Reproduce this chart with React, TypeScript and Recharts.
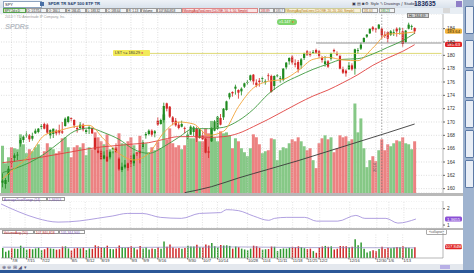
import React from "react";
import { ComposedChart, Bar, Line, XAxis, YAxis, CartesianGrid, ReferenceLine, Cell } from "recharts";

const dates = [
  "7/2","7/3","7/5","7/8","7/9","7/10","7/11","7/12","7/15","7/16","7/17","7/18","7/19","7/22","7/23","7/24","7/25","7/26","7/29","7/30","7/31",
  "8/1","8/2","8/5","8/6","8/7","8/8","8/9","8/12","8/13","8/14","8/15","8/16","8/19","8/20","8/21","8/22","8/23","8/26","8/27","8/28","8/29","8/30",
  "9/3","9/4","9/5","9/6","9/9","9/10","9/11","9/12","9/13","9/16","9/17","9/18","9/19","9/20","9/23","9/24","9/25","9/26","9/27","9/30",
  "10/1","10/2","10/3","10/4","10/7","10/8","10/9","10/10","10/11","10/14","10/15","10/16","10/17","10/18","10/21","10/22","10/23","10/24","10/25","10/28","10/29","10/30","10/31",
  "11/1","11/4","11/5","11/6","11/7","11/8","11/11","11/12","11/13","11/14","11/15","11/18","11/19","11/20","11/21","11/22","11/25","11/26","11/27","11/29",
  "12/2","12/3","12/4","12/5","12/6","12/9","12/10","12/11","12/12","12/13","12/16","12/17","12/18","12/19","12/20","12/23","12/24","12/26","12/27","12/30","12/31",
  "1/2","1/3","1/6","1/7","1/8","1/9","1/10","1/13","1/14","1/15","1/16","1/17"
];

// [open, high, low, close]
const ohlc = [
  [160.9,162.3,160.2,161.2],[160.7,161.6,160.0,161.3],[162.1,163.4,161.0,163.0],[164.0,164.6,163.1,163.9],[164.6,165.3,164.0,165.0],
  [165.0,165.5,164.3,165.1],[166.8,167.6,166.3,167.3],[167.3,168.0,166.9,167.8],[168.0,168.6,167.6,168.1],[168.0,168.2,167.0,167.4],
  [167.5,168.4,167.2,167.9],[168.3,169.0,168.2,168.7],[168.5,169.1,168.3,169.0],[169.3,169.7,168.9,169.4],[169.7,169.9,168.9,169.0],
  [169.6,169.8,168.2,168.4],[168.0,168.9,167.5,168.8],[168.2,169.0,167.6,169.0],[168.7,168.9,168.0,168.3],[168.8,169.6,168.1,168.4],
  [168.6,170.0,168.2,168.4],[169.4,170.7,169.3,170.5],[170.0,170.9,169.8,170.8],[170.6,170.7,170.1,170.5],[170.3,170.4,169.1,169.5],
  [169.1,169.4,168.4,168.9],[169.1,170.0,168.9,169.6],[169.6,169.8,168.6,168.9],[168.5,169.0,168.2,168.8],[169.0,169.5,168.2,169.2],
  [169.1,169.2,168.2,168.3],[167.6,167.7,165.8,165.9],[165.7,166.3,165.3,165.4],[165.6,165.9,164.4,164.4],[164.5,165.6,164.4,165.0],
  [164.8,165.8,164.0,164.1],[164.7,165.7,164.4,165.5],[165.9,166.2,165.3,166.1],[166.0,166.8,165.4,165.5],[164.5,164.7,162.7,162.9],
  [162.8,163.9,162.5,163.3],[163.2,164.3,163.0,163.6],[163.8,163.9,162.7,163.1],[164.3,165.0,163.2,163.8],[163.8,165.3,163.4,165.1],
  [165.4,165.6,164.9,165.3],[165.7,166.6,163.8,165.3],[166.2,167.3,166.0,167.0],[168.0,168.5,167.5,168.2],[168.2,168.9,168.0,168.7],
  [168.7,168.9,167.8,168.1],[168.3,168.8,167.7,168.6],[170.2,170.7,169.4,169.6],[169.7,170.5,169.6,170.3],[170.3,172.9,169.9,172.4],
  [172.8,172.9,171.6,172.0],[172.3,172.4,170.6,170.8],[170.7,170.9,169.5,170.0],[170.2,170.6,169.3,169.5],[169.6,170.0,168.9,169.1],
  [169.3,170.2,169.2,169.7],[169.1,169.3,168.3,169.0],[167.8,168.6,167.4,168.0],[168.1,169.5,168.1,169.3],[168.5,169.4,167.9,169.2],
  [169.0,169.3,167.0,167.7],[167.6,169.1,167.5,168.9],[168.0,168.7,167.3,167.4],[167.5,167.6,165.3,165.4],[165.6,166.3,164.6,165.4],
  [167.1,169.2,167.0,169.1],[168.7,170.3,168.6,170.1],[169.0,170.9,168.8,170.8],[170.6,171.2,169.5,169.6],[170.7,172.1,170.3,172.0],
  [171.8,173.2,171.7,173.1],[173.7,174.4,173.4,174.3],[174.5,174.6,173.8,174.3],[175.0,175.6,174.1,175.3],[174.8,174.9,173.5,174.4],
  [174.6,175.2,174.0,175.0],[175.3,175.9,175.1,175.8],[175.9,176.3,175.6,176.0],[176.3,177.1,176.1,177.0],[177.1,177.2,175.6,176.1],
  [175.9,176.4,175.2,175.5],[176.2,176.6,175.3,176.0],[176.6,176.8,175.9,176.6],[176.1,176.4,175.6,176.1],[177.0,177.3,176.2,176.9],
  [176.9,177.1,174.4,174.5],[175.4,177.0,174.8,176.9],[177.0,177.2,176.7,177.0],[176.6,176.9,175.9,176.6],[176.3,178.1,176.1,178.0],
  [178.2,179.0,177.9,178.9],[179.1,179.7,178.6,179.6],[179.8,180.0,178.6,178.9],[178.8,179.4,178.2,178.6],[179.0,179.3,177.4,177.9],
  [178.5,179.6,178.0,179.4],[179.6,180.4,179.3,180.3],[180.6,180.8,179.9,180.1],[180.2,180.6,179.8,180.1],[180.4,180.8,180.2,180.5],
  [180.8,181.0,180.2,180.4],[180.6,180.8,179.6,179.9],[179.6,179.9,178.9,179.3],[178.7,179.9,178.3,179.1],[179.1,179.3,178.1,178.3],
  [179.5,180.4,179.2,180.3],[180.8,181.0,180.4,180.6],[180.3,180.6,179.9,180.1],[179.9,180.1,177.9,178.0],[177.9,178.3,177.2,177.4],
  [177.7,177.9,176.8,177.3],[177.9,179.0,177.8,178.5],[178.5,178.8,177.7,177.9],[178.0,181.0,177.1,180.9],[180.7,181.1,180.2,180.8],
  [181.0,181.9,180.8,181.6],[182.0,182.7,181.9,182.6],[182.8,183.2,182.6,183.1],[183.3,184.0,183.2,184.0],[184.2,184.4,183.6,183.9],
  [184.0,184.1,183.4,183.9],[184.0,184.7,183.9,184.6],[184.0,184.1,182.5,183.0],[183.1,183.6,182.6,182.9],[183.5,183.6,181.9,182.5],
  [183.1,183.8,182.9,183.6],[183.5,183.9,182.9,183.5],[184.0,184.2,182.8,183.6],[183.9,184.2,183.1,184.0],[183.6,184.1,181.3,181.7],
  [182.0,183.8,181.9,183.7],[184.0,184.9,183.9,184.6],[184.3,184.6,183.8,184.4],[184.1,184.2,183.2,183.6]
];

// volume in millions of shares
const volumes = [
  95,60,72,92,90,88,118,98,80,88,84,92,98,75,84,100,92,88,80,84,110,
  112,92,72,92,96,92,100,76,92,88,122,112,104,98,118,88,84,92,120,100,98,104,
  112,96,82,115,92,100,82,92,86,104,90,158,108,130,100,92,96,88,96,118,
  110,110,128,104,104,130,120,145,112,104,124,120,122,116,90,110,104,90,82,74,90,118,112,
  98,80,84,86,110,108,66,86,92,90,100,108,104,112,104,94,86,90,66,50,
  100,110,116,108,112,82,90,116,112,114,104,108,180,122,150,90,52,66,74,64,86,
  108,86,98,94,100,106,104,112,100,98,88,104
];

const maIdx = [0,4,9,14,19,24,29,34,39,44,49,54,59,64,69,74,79,84,89,94,99,104,109,114,119,124,129,134,138];
const ma10 = [161.5,163.0,165.0,168.0,168.7,169.3,169.5,167.4,165.3,164.3,165.3,168.4,170.0,169.7,168.0,168.6,172.3,175.1,176.1,176.4,177.7,179.4,179.7,179.3,179.2,181.1,183.2,183.3,183.5];
const ma20 = [162.4,163.0,163.9,165.2,166.9,168.6,169.1,168.4,167.4,165.9,165.3,166.3,167.7,169.0,169.0,169.2,170.2,171.9,174.2,175.8,176.9,177.9,178.7,179.4,179.5,180.2,181.2,182.2,183.3];
const ma50 = [163.9,164.1,164.4,164.8,165.2,165.6,166.0,166.3,166.5,166.7,166.9,167.4,167.8,167.8,167.7,167.8,168.3,169.3,170.4,171.6,172.8,173.9,174.8,175.9,177.1,178.5,179.6,180.6,181.6];
const ma200Idx = [61,70,79,89,99,109,119,129,138];
const ma200 = [159.4,160.3,161.6,162.9,164.2,165.6,167.0,168.4,169.7];

const atrIdx = [0,6,12,19,26,32,37,42,47,53,60,66,73,75,79,84,89,91,95,101,105,112,118,121,128,132,138];
const atrVal = [2.29,1.8,1.41,1.18,1.25,1.41,1.55,1.71,1.71,1.47,1.41,1.71,1.76,1.94,1.88,1.55,1.29,1.41,1.47,1.47,1.24,1.24,1.59,1.41,1.41,1.12,1.37];

const volAvgIdx = [0,20,40,60,80,100,120,138];
const volAvg = [104,100,101,104,106,100,99,98];

const priceTicks = [160,162,164,166,168,170,172,174,176,178,180,182,184];
const dateTicks = ["7/8","7/15","7/22","8/5","8/12","8/19","9/3","9/9","9/16","9/30","10/7","10/14","10/28","11/4","11/11","11/18","11/25","12/2","12/16","12/30","1/6","1/13"];

const N_SLOTS = 148;
const UP = "#1f8a1f";
const DN = "#d42626";
const VUP = "#86c886";
const VDN = "#ec8282";

const maMap = (idx: number[], vals: number[]) => {
  const m: Record<number, number> = {};
  idx.forEach((k, j) => (m[k] = vals[j]));
  return m;
};
const m10 = maMap(maIdx, ma10);
const m20 = maMap(maIdx, ma20);
const m50 = maMap(maIdx, ma50);
const m200 = maMap(ma200Idx, ma200);
const mAtr = maMap(atrIdx, atrVal);
const mVa = maMap(volAvgIdx, volAvg);

const data = Array.from({ length: N_SLOTS }, (_, i) => {
  const row = ohlc[i];
  return {
    i,
    date: dates[i] ?? "",
    hl: row ? [row[2], row[1]] : null,
    o: row ? row[0] : null,
    h: row ? row[1] : null,
    l: row ? row[2] : null,
    c: row ? row[3] : null,
    up: row ? row[3] >= row[0] : true,
    vol: volumes[i] ?? null,
    ma10: m10[i],
    ma20: m20[i],
    ma50: m50[i],
    ma200: m200[i],
    atr: mAtr[i],
    vavg: mVa[i],
  };
});

const tickIdx = dateTicks.map((d) => dates.indexOf(d));

const Candle = (props: any) => {
  const { x, y, width, height, payload } = props;
  if (!payload || payload.o == null) return null;
  const top = Math.min(y, y + height);
  const bot = Math.max(y, y + height);
  const range = payload.h - payload.l || 0.01;
  const ppu = (bot - top) / range;
  const oy = top + (payload.h - payload.o) * ppu;
  const cy = top + (payload.h - payload.c) * ppu;
  const cx = x + width / 2;
  const col = payload.up ? UP : DN;
  const bt = Math.min(oy, cy);
  const bh = Math.max(Math.abs(oy - cy), 0.8);
  return (
    <g>
      <line x1={cx} x2={cx} y1={top} y2={bot} stroke={col} strokeWidth={0.8} />
      <rect x={cx - 1.1} y={bt} width={2.2} height={bh} fill={col} />
    </g>
  );
};

const Badge = ({ viewBox, text, bg, fg }: any) => {
  if (!viewBox) return null;
  const x = viewBox.x + viewBox.width + 2;
  const y = viewBox.y;
  return (
    <g>
      <rect x={x} y={y - 2.6} width={17} height={5.2} rx={1.5} fill={bg} />
      <text x={x + 8.5} y={y + 1.6} fontSize={4.3} textAnchor="middle" fill={fg} fontFamily="Liberation Sans, Arial">{text}</text>
    </g>
  );
};

const XTick = ({ x, y, payload }: any) => (
  <text x={x + 0.5} y={y + 0.6} fontSize={4.1} fill="#333" textAnchor="start" fontFamily="Liberation Sans, Arial">
    {dates[payload.value] ?? ""}
  </text>
);

const font = "Liberation Sans, Arial, sans-serif";

const Cellbox = ({ left, w, text, color = "#333", bg = "#f4f4f4", border = "#9a9a9a" }: any) => (
  <div style={{ position: "absolute", left, top: 8, width: w, height: 5, border: `0.5px solid ${border}`, background: bg, color, fontSize: 3.2, lineHeight: "5px", whiteSpace: "nowrap", paddingLeft: 0.5, boxSizing: "border-box", letterSpacing: -0.1 }}>{text}</div>
);

const HeadBox = ({ left, top, w, text, color }: any) => (
  <div style={{ position: "absolute", left, top, width: w, height: 4.5, border: "0.5px solid #999", background: "#fff", fontSize: 3.4, lineHeight: "4.5px", color, whiteSpace: "nowrap", paddingLeft: 0.8, boxSizing: "border-box" }}>{text}</div>
);

export default function App() {
  return (
    <div style={{ position: "absolute", left: 0, top: 0, width: 474, height: 273, background: "#fff", overflow: "hidden", fontFamily: font }}>
      {/* top toolbar */}
      <div style={{ position: "absolute", left: 0, top: 0, width: 474, height: 8, background: "linear-gradient(#eef2f7,#d9e2ec)" }} />
      <div style={{ position: "absolute", left: 3, top: 1, width: 36, height: 5, background: "#fff", border: "0.5px solid #8ea4c0", fontSize: 4, lineHeight: "5px", paddingLeft: 1, color: "#223" }}>SPY</div>
      <div style={{ position: "absolute", left: 40, top: 1.5, width: 4, height: 4, background: "#4a6fa5" }} />
      <div style={{ position: "absolute", left: 48, top: 1, fontSize: 4.2, lineHeight: "6px", color: "#1b3a6b", fontWeight: 700 }}>SPDR TR S&amp;P 500 ETF TR</div>
      <div style={{ position: "absolute", left: 352, top: 1, fontSize: 3.8, lineHeight: "6px", color: "#334", whiteSpace: "nowrap" }}>▣ ▤ ◙ ⚙ Style  ✎ Drawings  ƒ Studies</div>
      <div style={{ position: "absolute", left: 414, top: 0, fontSize: 6.5, lineHeight: "8px", color: "#1d2f5e", fontWeight: 700 }}>183635</div>
      <div style={{ position: "absolute", left: 456, top: 1, width: 6, height: 6, background: "#8f7fc7" }} />
      {/* info bar */}
      <div style={{ position: "absolute", left: 0, top: 7.5, width: 474, height: 6, background: "#e8eef4" }} />
      <Cellbox left={3} w={23} text="SPY 2d x D" bg="#dff2d8" border="#55a04a" />
      <Cellbox left={26} w={21} text="D: 1/17/14" />
      <Cellbox left={47} w={19} text="O: 184.1" />
      <Cellbox left={66} w={20} text="H: 184.45" />
      <Cellbox left={86} w={20} text="L: 183.32" />
      <Cellbox left={106} w={21} text="C: 183.64" />
      <Cellbox left={127} w={14} text="R: 1.13" />
      <Cellbox left={141} w={16} text="Volume" />
      <Cellbox left={157} w={25} text="107,840,818" />
      <Cellbox left={182} w={76} text="MovingAvgTwoLines (CLOSE, 50, 1, 50, Simple)" color="#c0282b" bg="#fbe3e3" border="#d88" />
      <Cellbox left={259} w={15} text="183.89" color="#c0282b" />
      <Cellbox left={274} w={11} text="183.7" color="#666" />
      <Cellbox left={285} w={76} text="MovingAvgTwoLines (CLOSE, 20, 20, 200, Simple)" color="#b07a10" bg="#faf0d8" border="#cc9" />
      <Cellbox left={362} w={16} text="181.63" color="#b07a10" />
      <Cellbox left={379} w={16} text="183.23" color="#2a8a2a" />
      <div style={{ position: "absolute", left: 443, top: 8, width: 7, height: 5, background: "#d8d8d8" }} />

      {/* main price panel */}
      <div style={{ position: "absolute", left: 0, top: 14 }}>
        <ComposedChart width={463} height={179} data={data} margin={{ top: 0, right: 0, bottom: 0, left: 1 }} barCategoryGap={0} barGap={0}>
          <XAxis xAxisId="a" dataKey="i" type="category" hide />
          <XAxis xAxisId="b" dataKey="i" type="category" hide />
          <YAxis yAxisId="p" orientation="right" width={20} domain={[159.35, 186.2]} ticks={priceTicks} allowDataOverflow
            tick={{ fontSize: 4.8, fill: "#333", fontFamily: font }} tickSize={2} axisLine={{ stroke: "#888", strokeWidth: 0.6 }} tickLine={{ stroke: "#666" }} interval={0} />
          <YAxis yAxisId="v" hide domain={[0, 360]} />
          <CartesianGrid xAxisId="a" yAxisId="p" vertical={false} stroke="#c8c8c8" strokeDasharray="1 1.5" strokeWidth={0.6} />
          <Bar xAxisId="b" yAxisId="v" dataKey="vol" isAnimationActive={false}>
            {data.map((d, k) => <Cell key={k} fill={d.up ? VUP : VDN} />)}
          </Bar>
          {tickIdx.map((t) => (
            <ReferenceLine key={t} xAxisId="a" yAxisId="p" x={t} stroke="#c8c8c8" strokeDasharray="1 1.5" strokeWidth={0.6} />
          ))}
          <ReferenceLine xAxisId="a" yAxisId="p" segment={[{ x: 49, y: 180.29 }, { x: 147, y: 180.29 }]} stroke="#d6cf52" strokeWidth={0.8} />
          <ReferenceLine xAxisId="a" yAxisId="p" segment={[{ x: 105, y: 181.85 }, { x: 147, y: 181.85 }]} stroke="#777" strokeWidth={0.8} />
          <ReferenceLine xAxisId="a" yAxisId="p" x={127} stroke="#777" strokeDasharray="1.5 1.5" strokeWidth={0.7} />
          <Line xAxisId="a" yAxisId="p" dataKey="ma200" stroke="#3a3a3a" strokeWidth={0.9} dot={false} connectNulls type="monotone" isAnimationActive={false} />
          <Line xAxisId="a" yAxisId="p" dataKey="ma50" stroke="#e0423f" strokeWidth={0.9} dot={false} connectNulls type="monotone" isAnimationActive={false} />
          <Line xAxisId="a" yAxisId="p" dataKey="ma20" stroke="#3e9a3e" strokeWidth={0.9} dot={false} connectNulls type="monotone" isAnimationActive={false} />
          <Line xAxisId="a" yAxisId="p" dataKey="ma10" stroke="#f2a43a" strokeWidth={0.9} dot={false} connectNulls type="monotone" isAnimationActive={false} />
          <Bar xAxisId="a" yAxisId="p" dataKey="hl" shape={<Candle />} isAnimationActive={false} />
          <ReferenceLine xAxisId="a" yAxisId="p" y={183.64} stroke="none" label={<Badge text="183.64" bg="#f3b63f" fg="#402800" />} />
          <ReferenceLine xAxisId="a" yAxisId="p" y={181.63} stroke="none" label={<Badge text="181.63" bg="#e02424" fg="#fff" />} />
        </ComposedChart>
      </div>
      {/* annotations */}
      <div style={{ position: "absolute", left: 5, top: 15, fontSize: 3.4, color: "#999", whiteSpace: "nowrap" }}>2013 © TD Ameritrade IP Company, Inc.</div>
      <div style={{ position: "absolute", left: 5, top: 22, fontSize: 7.5, color: "#b9bec6", fontWeight: 700, fontStyle: "italic", letterSpacing: -0.3 }}>SPDRs</div>
      <div style={{ position: "absolute", left: 113, top: 50, width: 37, height: 6, background: "#f2ea5a", borderRadius: 1, fontSize: 3.8, lineHeight: "6px", color: "#333", paddingLeft: 2, boxSizing: "border-box", whiteSpace: "nowrap" }}>LST &lt;= 180.29 <span style={{ color: "#d55" }}>●</span></div>
      <div style={{ position: "absolute", left: 277, top: 19, width: 20, height: 6, background: "#7dd46a", borderRadius: 3, fontSize: 3.8, lineHeight: "6px", color: "#fff", paddingLeft: 2, boxSizing: "border-box", whiteSpace: "nowrap" }}>≥1.147 <span style={{ color: "#e87a2a" }}>●</span></div>
      <div style={{ position: "absolute", left: 407, top: 13, width: 22, height: 5, background: "#d4d4d4", border: "0.5px solid #888", fontSize: 3.6, lineHeight: "4.5px", color: "#333", paddingLeft: 1, boxSizing: "border-box", whiteSpace: "nowrap" }}>Hi: 184.69</div>
      <div style={{ position: "absolute", left: 372, top: 172, fontSize: 4, color: "#666", transform: "rotate(-90deg)", transformOrigin: "left top", whiteSpace: "nowrap" }}>2014</div>

      {/* separator + ATR header */}
      <div style={{ position: "absolute", left: 0, top: 193, width: 463, height: 3, background: "#b9b9b9" }} />
      <HeadBox left={2} top={196.5} w={45} text="AverageTrueRange (14)" color="#7a55b8" />
      <HeadBox left={47} top={196.5} w={18} text="1.36553" color="#7a55b8" />
      <div style={{ position: "absolute", left: 0, top: 201 }}>
        <ComposedChart width={463} height={27} data={data} margin={{ top: 0, right: 0, bottom: 0, left: 1 }}>
          <XAxis xAxisId="a" dataKey="i" type="category" hide />
          <YAxis yAxisId="p" orientation="right" width={20} domain={[0.82, 2.47]} ticks={[1, 2]} allowDataOverflow
            tick={{ fontSize: 4.8, fill: "#333", fontFamily: font }} tickSize={2} axisLine={{ stroke: "#888", strokeWidth: 0.6 }} />
          <CartesianGrid xAxisId="a" yAxisId="p" vertical={false} stroke="#d0d0d0" strokeDasharray="1 1.5" strokeWidth={0.6} />
          {tickIdx.map((t) => (
            <ReferenceLine key={t} xAxisId="a" yAxisId="p" x={t} stroke="#d0d0d0" strokeDasharray="1 1.5" strokeWidth={0.6} />
          ))}
          <Line xAxisId="a" yAxisId="p" dataKey="atr" stroke="#9c88d8" strokeWidth={0.8} dot={false} connectNulls type="monotone" isAnimationActive={false} />
          <ReferenceLine xAxisId="a" yAxisId="p" y={1.37} stroke="none" label={<Badge text="1.3655" bg="#8b4fd6" fg="#fff" />} />
        </ComposedChart>
      </div>

      {/* separator + volume header */}
      <div style={{ position: "absolute", left: 0, top: 227.5, width: 463, height: 2, background: "#b9b9b9" }} />
      <HeadBox left={2} top={229.5} w={32} text="VolumeAvg (50)" color="#c0282b" />
      <HeadBox left={34} top={229.5} w={25} text="107,840,818" color="#c0282b" />
      <HeadBox left={59} top={229.5} w={26} text="105,344,900" color="#7a55b8" />
      <div style={{ position: "absolute", left: 426, top: 229, width: 19, height: 4, fontSize: 3.2, color: "#555", border: "0.5px solid #aaa", borderRadius: 1, textAlign: "center", lineHeight: "4px", whiteSpace: "nowrap" }}>«collapse»</div>
      <div style={{ position: "absolute", left: 0, top: 233 }}>
        <ComposedChart width={463} height={31} data={data} margin={{ top: 0, right: 0, bottom: 0, left: 1 }} barCategoryGap={0.7}>
          <XAxis xAxisId="a" dataKey="i" type="category" ticks={tickIdx} interval={0} height={6}
            tick={<XTick />} tickSize={1.5} axisLine={{ stroke: "#888", strokeWidth: 0.6 }} />
          <YAxis yAxisId="p" orientation="right" width={20} domain={[0, 240]} ticks={[200]} allowDataOverflow
            tick={{ fontSize: 4.5, fill: "#333", fontFamily: font }} tickSize={2} axisLine={{ stroke: "#888", strokeWidth: 0.6 }} />
          {tickIdx.map((t) => (
            <ReferenceLine key={t} xAxisId="a" yAxisId="p" x={t} stroke="#d0d0d0" strokeDasharray="1 1.5" strokeWidth={0.6} />
          ))}
          <Bar xAxisId="a" yAxisId="p" dataKey="vol" barSize={1.5} isAnimationActive={false}>
            {data.map((d, k) => <Cell key={k} fill={d.up ? "#2f9a2f" : "#d02828"} />)}
          </Bar>
          <Line xAxisId="a" yAxisId="p" dataKey="vavg" stroke="#8d86c0" strokeWidth={0.7} dot={false} connectNulls type="monotone" isAnimationActive={false} />
          <ReferenceLine xAxisId="a" yAxisId="p" y={107.8} stroke="none" label={<Badge text="107.84M" bg="#e02424" fg="#fff" />} />
        </ComposedChart>
      </div>

      {/* bottom toolbar */}
      <div style={{ position: "absolute", left: 0, top: 264, width: 463, height: 6, background: "#e4e8ee" }} />
      <div style={{ position: "absolute", left: 2, top: 264, fontSize: 5, lineHeight: "6px", color: "#557" }}>⊕ ⊖ ⊞ ◢ ▾</div>
      <div style={{ position: "absolute", left: 440, top: 264.5, width: 10, height: 4, background: "#b8b0e6" }} />
      <div style={{ position: "absolute", left: 0, top: 270, width: 474, height: 3, background: "#2b5797" }} />

      {/* right sidebar */}
      <div style={{ position: "absolute", left: 463, top: 0, width: 11, height: 270, background: "#9fb3cf" }} />
      {[6, 40, 70, 100, 130, 160].map((t, k) => (
        <div key={k} style={{ position: "absolute", left: 465, top: t, width: 7, height: 26, background: "#e9eef6", border: "0.5px solid #5d7aa6", borderRadius: 1 }} />
      ))}
    </div>
  );
}
